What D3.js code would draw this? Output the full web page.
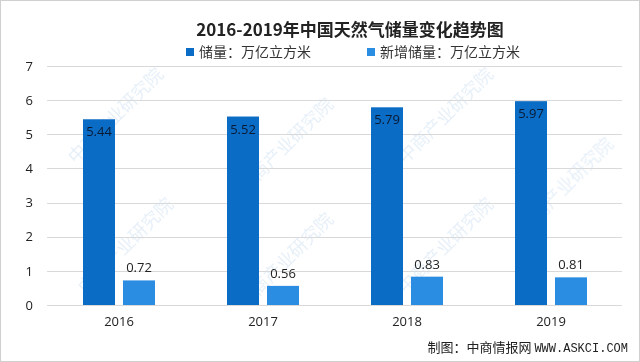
<!DOCTYPE html>
<html><head><meta charset="utf-8">
<script src="https://cdn.jsdelivr.net/npm/d3@7"></script>
<style>html,body{margin:0;padding:0;background:#fff;}svg{display:block;}</style>
</head><body><svg id="c" width="640" height="362"></svg>
<script>
const years = ["2016", "2017", "2018", "2019"];
const seriesNames = ["储量：万亿立方米", "新增储量：万亿立方米"];
const reserves = [5.44, 5.52, 5.79, 5.97];
const newReserves = [0.72, 0.56, 0.83, 0.81];
const yTicks = [0, 1, 2, 3, 4, 5, 6, 7];
const titleText = "2016-2019年中国天然气储量变化趋势图";
const sourceText = "制图：中商情报网";
const sourceUrl = "WWW.ASKCI.COM";

const colors = ["#0b6cc5", "#2b8de2"];
const W = 640, H = 362;
const m = {left: 47, right: 17, top: 66, bottom: 57};
const svg = d3.select("#c");
const cjk = "'Noto Sans CJK SC','Noto Sans',sans-serif";
const num = "'Open Sans','Noto Sans',sans-serif";

svg.append("rect").attr("x",0.5).attr("y",0.5).attr("width",W-1).attr("height",H-1)
  .attr("fill","#fff").attr("stroke","#d0d0d0");

const x0 = d3.scaleBand().domain(years).range([m.left, W - m.right]).paddingInner(0.5).paddingOuter(0.25);
const x1 = d3.scaleBand().domain([0,1]).range([0, x0.bandwidth()]).paddingInner(0.2).paddingOuter(0);
const y = d3.scaleLinear().domain([0, 7]).range([H - m.bottom, m.top]);

// watermark
const wm = svg.append("g").attr("fill","#c3d9ef").attr("opacity",0.4)
  .style("font-family",cjk).style("font-size","18px");
[[120,120],[130,250],[290,150],[290,265],[450,120],[450,250],[570,190]].forEach(p=>{
  wm.append("text").attr("transform",`translate(${p[0]},${p[1]}) rotate(-45)`)
    .attr("text-anchor","middle").text("中商产业研究院");
});

// grid
svg.append("g").selectAll("line").data(yTicks).join("line")
  .attr("x1", m.left).attr("x2", W - m.right - 1)
  .attr("y1", d => Math.round(y(d)) + 0.5).attr("y2", d => Math.round(y(d)) + 0.5)
  .attr("stroke", "#d9d9d9").attr("stroke-width", 1);

// y axis labels
const yAxis = d3.axisLeft(y).tickValues(yTicks).tickSize(0).tickPadding(0).tickFormat(d3.format("d"));
const ya = svg.append("g").attr("transform", `translate(33,0)`).call(yAxis);
ya.select(".domain").remove();
ya.selectAll("text").style("font-family", num).style("font-size", "13px").attr("fill", "#222");

// x axis labels
const xAxis = d3.axisBottom(x0).tickSize(0).tickPadding(0);
const xa = svg.append("g").attr("transform", `translate(0,${H - m.bottom + 12})`).call(xAxis);
xa.select(".domain").remove();
xa.selectAll("text").style("font-family", num).style("font-size", "13px").attr("fill", "#222");

// bars
const data = years.map((yr, i) => ({yr, vals: [reserves[i], newReserves[i]]}));
const groups = svg.append("g").selectAll("g").data(data).join("g")
  .attr("transform", d => `translate(${x0(d.yr)},0)`);
groups.selectAll("rect").data(d => d.vals.map((v, k) => ({v, k}))).join("rect")
  .attr("x", d => x1(d.k)).attr("width", x1.bandwidth())
  .attr("y", d => y(d.v)).attr("height", d => y(0) - y(d.v))
  .attr("fill", d => colors[d.k]);
groups.selectAll("text").data(d => d.vals.map((v, k) => ({v, k}))).join("text")
  .attr("x", d => x1(d.k) + x1.bandwidth() / 2)
  .attr("y", d => d.k === 0 ? y(d.v) + 17 : y(d.v) - 8)
  .attr("text-anchor", "middle")
  .style("font-family", num).style("font-size", "13px")
  .attr("fill", d => d.k === 0 ? "#0a1a33" : "#222")
  .text(d => d3.format(".2f")(d.v));

// title
svg.append("text").attr("x", 350).attr("y", 36).attr("text-anchor", "middle")
  .style("font-family", cjk).style("font-size", "17px").style("font-weight", "bold")
  .attr("fill", "#222").text(titleText);

// legend
const legX = [186, 367];
seriesNames.forEach((s, i) => {
  svg.append("rect").attr("x", legX[i]).attr("y", 48).attr("width", 8).attr("height", 8).attr("fill", colors[i]);
  svg.append("text").attr("x", legX[i] + 13).attr("y", 57)
    .style("font-family", cjk).style("font-size", "14px").attr("fill", "#333").text(s);
});

// source
const src = svg.append("text").attr("x", 628).attr("y", 352).attr("text-anchor", "end").attr("fill", "#222");
src.append("tspan").style("font-family", cjk).style("font-size", "13px").text(sourceText + " ");
src.append("tspan").style("font-family", "'Liberation Mono','DejaVu Sans Mono',monospace").style("font-size", "12px").text(sourceUrl);
</script></body></html>
